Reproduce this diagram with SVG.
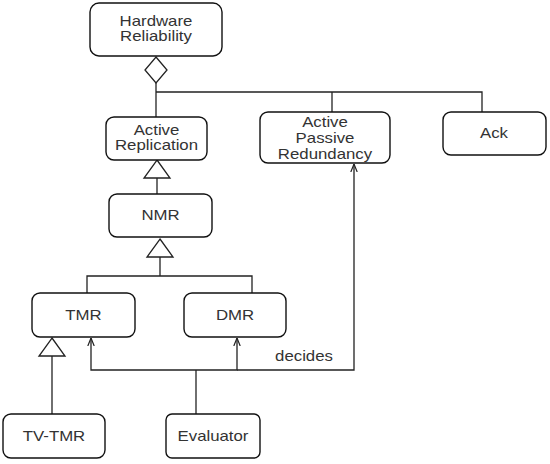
<svg xmlns="http://www.w3.org/2000/svg" width="550" height="464" viewBox="0 0 550 464">
<defs>
<style>
.box{fill:#fff;stroke:#111;stroke-width:1.4}
.t{font-family:"Liberation Sans",Arial,sans-serif;font-size:14px;fill:#333;text-anchor:middle}
.ln{fill:none;stroke:#222;stroke-width:1.3}
.tri{fill:#fff;stroke:#222;stroke-width:1.3}
</style>
<marker id="open" viewBox="0 0 10 10" refX="10" refY="5" markerWidth="8" markerHeight="8" orient="auto" markerUnits="userSpaceOnUse">
<path d="M0,1 L10,5 L0,9" fill="none" stroke="#222" stroke-width="1.5"/>
</marker>
</defs>
<rect width="550" height="464" fill="#fff"/>
<g id="connectors">
<path class="ln" d="M156,83 V117"/>
<path class="ln" d="M156,92 H482 V112"/>
<path class="ln" d="M332,92 V112"/>
<polygon class="tri" points="156,57 167,70 156,83 145,70"/>
<path class="ln" d="M157,178 V194"/>
<polygon class="tri" points="157,160 170,178 144,178"/>
<path class="ln" d="M160,257 V276 M87,293 V276 H252 V293"/>
<polygon class="tri" points="160,239 173,257 147,257"/>
<path class="ln" d="M52,356 V414"/>
<polygon class="tri" points="52,338 65,356 39,356"/>
<path class="ln" d="M196,414 V370"/>
<path class="ln" d="M196,370 H91 V338" marker-end="url(#open)"/>
<path class="ln" d="M196,370 H237 V338" marker-end="url(#open)"/>
<path class="ln" d="M237,370 H354 V164" marker-end="url(#open)"/>
<text class="t" transform="translate(304 361) scale(1.2 1)">decides</text>
</g>
<g id="hardware-reliability">
<rect class="box" x="90" y="3" width="132" height="53" rx="9"/>
<text class="t" transform="translate(156 26) scale(1.2 1)">Hardware</text>
<text class="t" transform="translate(156 41) scale(1.2 1)">Reliability</text>
</g>
<g id="active-replication">
<rect class="box" x="106" y="117" width="101" height="43" rx="8"/>
<text class="t" transform="translate(156.5 135) scale(1.2 1)">Active</text>
<text class="t" transform="translate(156.5 150) scale(1.2 1)">Replication</text>
</g>
<g id="active-passive-redundancy">
<rect class="box" x="260" y="112" width="130" height="51" rx="8"/>
<text class="t" transform="translate(325 127) scale(1.2 1)">Active</text>
<text class="t" transform="translate(325 143) scale(1.2 1)">Passive</text>
<text class="t" transform="translate(325 159) scale(1.2 1)">Redundancy</text>
</g>
<g id="ack">
<rect class="box" x="443" y="112" width="103" height="43" rx="8"/>
<text class="t" transform="translate(494 138) scale(1.2 1)">Ack</text>
</g>
<g id="nmr">
<rect class="box" x="109" y="194" width="103" height="43" rx="8"/>
<text class="t" transform="translate(160.5 220) scale(1.2 1)">NMR</text>
</g>
<g id="tmr">
<rect class="box" x="32" y="293" width="103" height="44" rx="8"/>
<text class="t" transform="translate(83.5 320) scale(1.2 1)">TMR</text>
</g>
<g id="dmr">
<rect class="box" x="184" y="293" width="102" height="44" rx="8"/>
<text class="t" transform="translate(235 320) scale(1.2 1)">DMR</text>
</g>
<g id="tv-tmr">
<rect class="box" x="3" y="414" width="102" height="44" rx="8"/>
<text class="t" transform="translate(54 441) scale(1.2 1)">TV-TMR</text>
</g>
<g id="evaluator">
<rect class="box" x="166" y="414" width="94" height="44" rx="6"/>
<text class="t" transform="translate(213 441) scale(1.2 1)">Evaluator</text>
</g>
</svg>
